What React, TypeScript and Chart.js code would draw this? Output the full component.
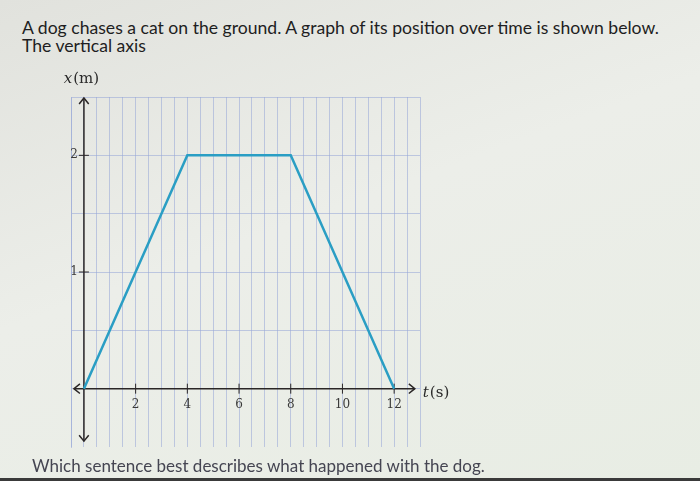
import React, { useEffect, useRef } from 'react';
import { Chart, ChartConfiguration, Plugin, registerables } from 'chart.js';

Chart.register(...registerables);

// dog position over time
const timeValues = [0, 4, 8, 12];
const positionValues = [0, 2, 2, 0];

const xTickValues = [2, 4, 6, 8, 10, 12];
const yTickValues = [1, 2];

// axis names: variable (italic) + unit
const xAxisVar = 't';
const xAxisUnit = '(s)';
const yAxisVar = 'x';
const yAxisUnit = '(m)';

const LINE_COLOR = '#2a9ec4';
const AXIS_COLOR = '#2a2626';
const GRID_COLOR = 'rgba(150, 165, 215, 0.55)';
const SERIF = '"DejaVu Serif", "Liberation Serif", serif';

const arrow = (ctx: CanvasRenderingContext2D, x: number, y: number, dx: number, dy: number) => {
  // open arrow head pointing along (dx, dy)
  const s = 6;
  const px = -dy, py = dx;
  ctx.beginPath();
  ctx.moveTo(x - dx * s + px * s * 0.8, y - dy * s + py * s * 0.8);
  ctx.lineTo(x, y);
  ctx.lineTo(x - dx * s - px * s * 0.8, y - dy * s - py * s * 0.8);
  ctx.stroke();
};

// italic variable followed by upright unit
const axisName = (ctx: CanvasRenderingContext2D, v: string, unit: string, x: number, y: number, align: 'left' | 'center') => {
  ctx.font = `italic 15px ${SERIF}`;
  const wv = ctx.measureText(v).width;
  ctx.font = `15px ${SERIF}`;
  const wu = ctx.measureText(unit).width;
  const start = align === 'left' ? x : x - (wv + wu) / 2;
  ctx.textAlign = 'left';
  ctx.font = `italic 15px ${SERIF}`;
  ctx.fillText(v, start, y);
  ctx.font = `15px ${SERIF}`;
  ctx.fillText(unit, start + wv + 1, y);
};

const axesPlugin: Plugin<'line'> = {
  id: 'mathAxes',
  beforeDatasetsDraw(chart) {
    const { ctx, chartArea } = chart;
    const xs = chart.scales.x;
    const ys = chart.scales.y;
    const x0 = xs.getPixelForValue(0);
    const y0 = ys.getPixelForValue(0);

    ctx.save();
    ctx.strokeStyle = AXIS_COLOR;
    ctx.lineWidth = 1.5;

    // horizontal axis
    const left = x0 - 10;
    const right = xs.getPixelForValue(12.8);
    ctx.beginPath();
    ctx.moveTo(left, y0);
    ctx.lineTo(right, y0);
    ctx.stroke();
    arrow(ctx, left, y0, -1, 0);
    arrow(ctx, right, y0, 1, 0);

    // vertical axis
    const top = chartArea.top + 1;
    const bottom = ys.getPixelForValue(-0.45);
    ctx.beginPath();
    ctx.moveTo(x0, top);
    ctx.lineTo(x0, bottom);
    ctx.stroke();
    arrow(ctx, x0, top, 0, -1);
    arrow(ctx, x0, bottom, 0, 1);

    // ticks and labels
    ctx.lineWidth = 1;
    ctx.font = `12px ${SERIF}`;
    ctx.fillStyle = '#3a3a3a';
    ctx.textAlign = 'center';
    ctx.textBaseline = 'top';
    xTickValues.forEach(v => {
      const px = xs.getPixelForValue(v);
      ctx.beginPath();
      ctx.moveTo(px, y0 - 5);
      ctx.lineTo(px, y0 + 5);
      ctx.stroke();
      ctx.fillText(String(v), px, y0 + 10);
    });
    ctx.textAlign = 'right';
    ctx.textBaseline = 'middle';
    yTickValues.forEach(v => {
      const py = ys.getPixelForValue(v);
      ctx.beginPath();
      ctx.moveTo(x0 - 5, py);
      ctx.lineTo(x0 + 5, py);
      ctx.stroke();
      ctx.fillText(String(v), x0 - 6, py);
    });

    ctx.fillStyle = '#2a2a2a';
    axisName(ctx, xAxisVar, xAxisUnit, right + 8, y0 + 4, 'left');
    axisName(ctx, yAxisVar, yAxisUnit, x0 - 3, chartArea.top - 18, 'center');
    ctx.restore();
  },
};

const PositionChart: React.FC = () => {
  const canvasRef = useRef<HTMLCanvasElement>(null);
  const chartRef = useRef<Chart | null>(null);

  useEffect(() => {
    if (!canvasRef.current) return;
    if (chartRef.current) chartRef.current.destroy();

    const config: ChartConfiguration<'line'> = {
      type: 'line',
      data: {
        datasets: [{
          data: timeValues.map((t, i) => ({ x: t, y: positionValues[i] })),
          borderColor: LINE_COLOR,
          borderWidth: 2.5,
          pointRadius: 0,
          tension: 0,
          fill: false,
        }],
      },
      options: {
        animation: false,
        responsive: false,
        maintainAspectRatio: false,
        layout: { padding: { left: 71, right: 280, top: 97, bottom: 34 } },
        plugins: {
          legend: { display: false },
          tooltip: { enabled: false },
        },
        scales: {
          x: {
            type: 'linear',
            min: -0.5,
            max: 13,
            ticks: { display: false, stepSize: 0.5 },
            grid: { color: GRID_COLOR, lineWidth: 1, drawTicks: false },
            border: { display: false },
          },
          y: {
            type: 'linear',
            min: -0.5,
            max: 2.5,
            ticks: { display: false, stepSize: 0.5 },
            grid: {
              // no closing line along the bottom edge
              color: (c: any) => (c.tick && c.tick.value <= -0.5 ? 'rgba(0,0,0,0)' : GRID_COLOR),
              lineWidth: 1,
              drawTicks: false,
            },
            border: { display: true, color: GRID_COLOR },
          },
        },
      },
      plugins: [axesPlugin],
    };

    chartRef.current = new Chart(canvasRef.current, config);

    return () => {
      if (chartRef.current) {
        chartRef.current.destroy();
        chartRef.current = null;
      }
    };
  }, []);

  return (
    <canvas
      ref={canvasRef}
      width={700}
      height={481}
      style={{ position: 'absolute', left: 0, top: 0, width: 700, height: 481 }}
    />
  );
};

const App: React.FC = () => {
  return (
    <div
      style={{
        position: 'fixed',
        left: 0,
        top: 0,
        width: 700,
        height: 481,
        overflow: 'hidden',
        background: 'linear-gradient(160deg, #e1e2dd 0%, #eceee9 45%, #e8ede4 100%)',
        fontFamily: 'Lato, "Open Sans", sans-serif',
      }}
    >
      <div
        style={{
          position: 'absolute',
          left: 22,
          top: 19,
          fontSize: 17.6,
          lineHeight: '18px',
          color: '#1e1e22',
        }}
      >
        A dog chases a cat on the ground. A graph of its position over time is shown below.
        <br />
        The vertical axis
      </div>
      <PositionChart />
      <div
        style={{
          position: 'absolute',
          left: 32,
          top: 455,
          fontSize: 17,
          color: '#454552',
        }}
      >
        Which sentence best describes what happened with the dog.
      </div>
      <div
        style={{
          position: 'absolute',
          left: 0,
          bottom: 0,
          width: 700,
          height: 3,
          background: '#3a3a3a',
        }}
      />
    </div>
  );
};

export default App;
